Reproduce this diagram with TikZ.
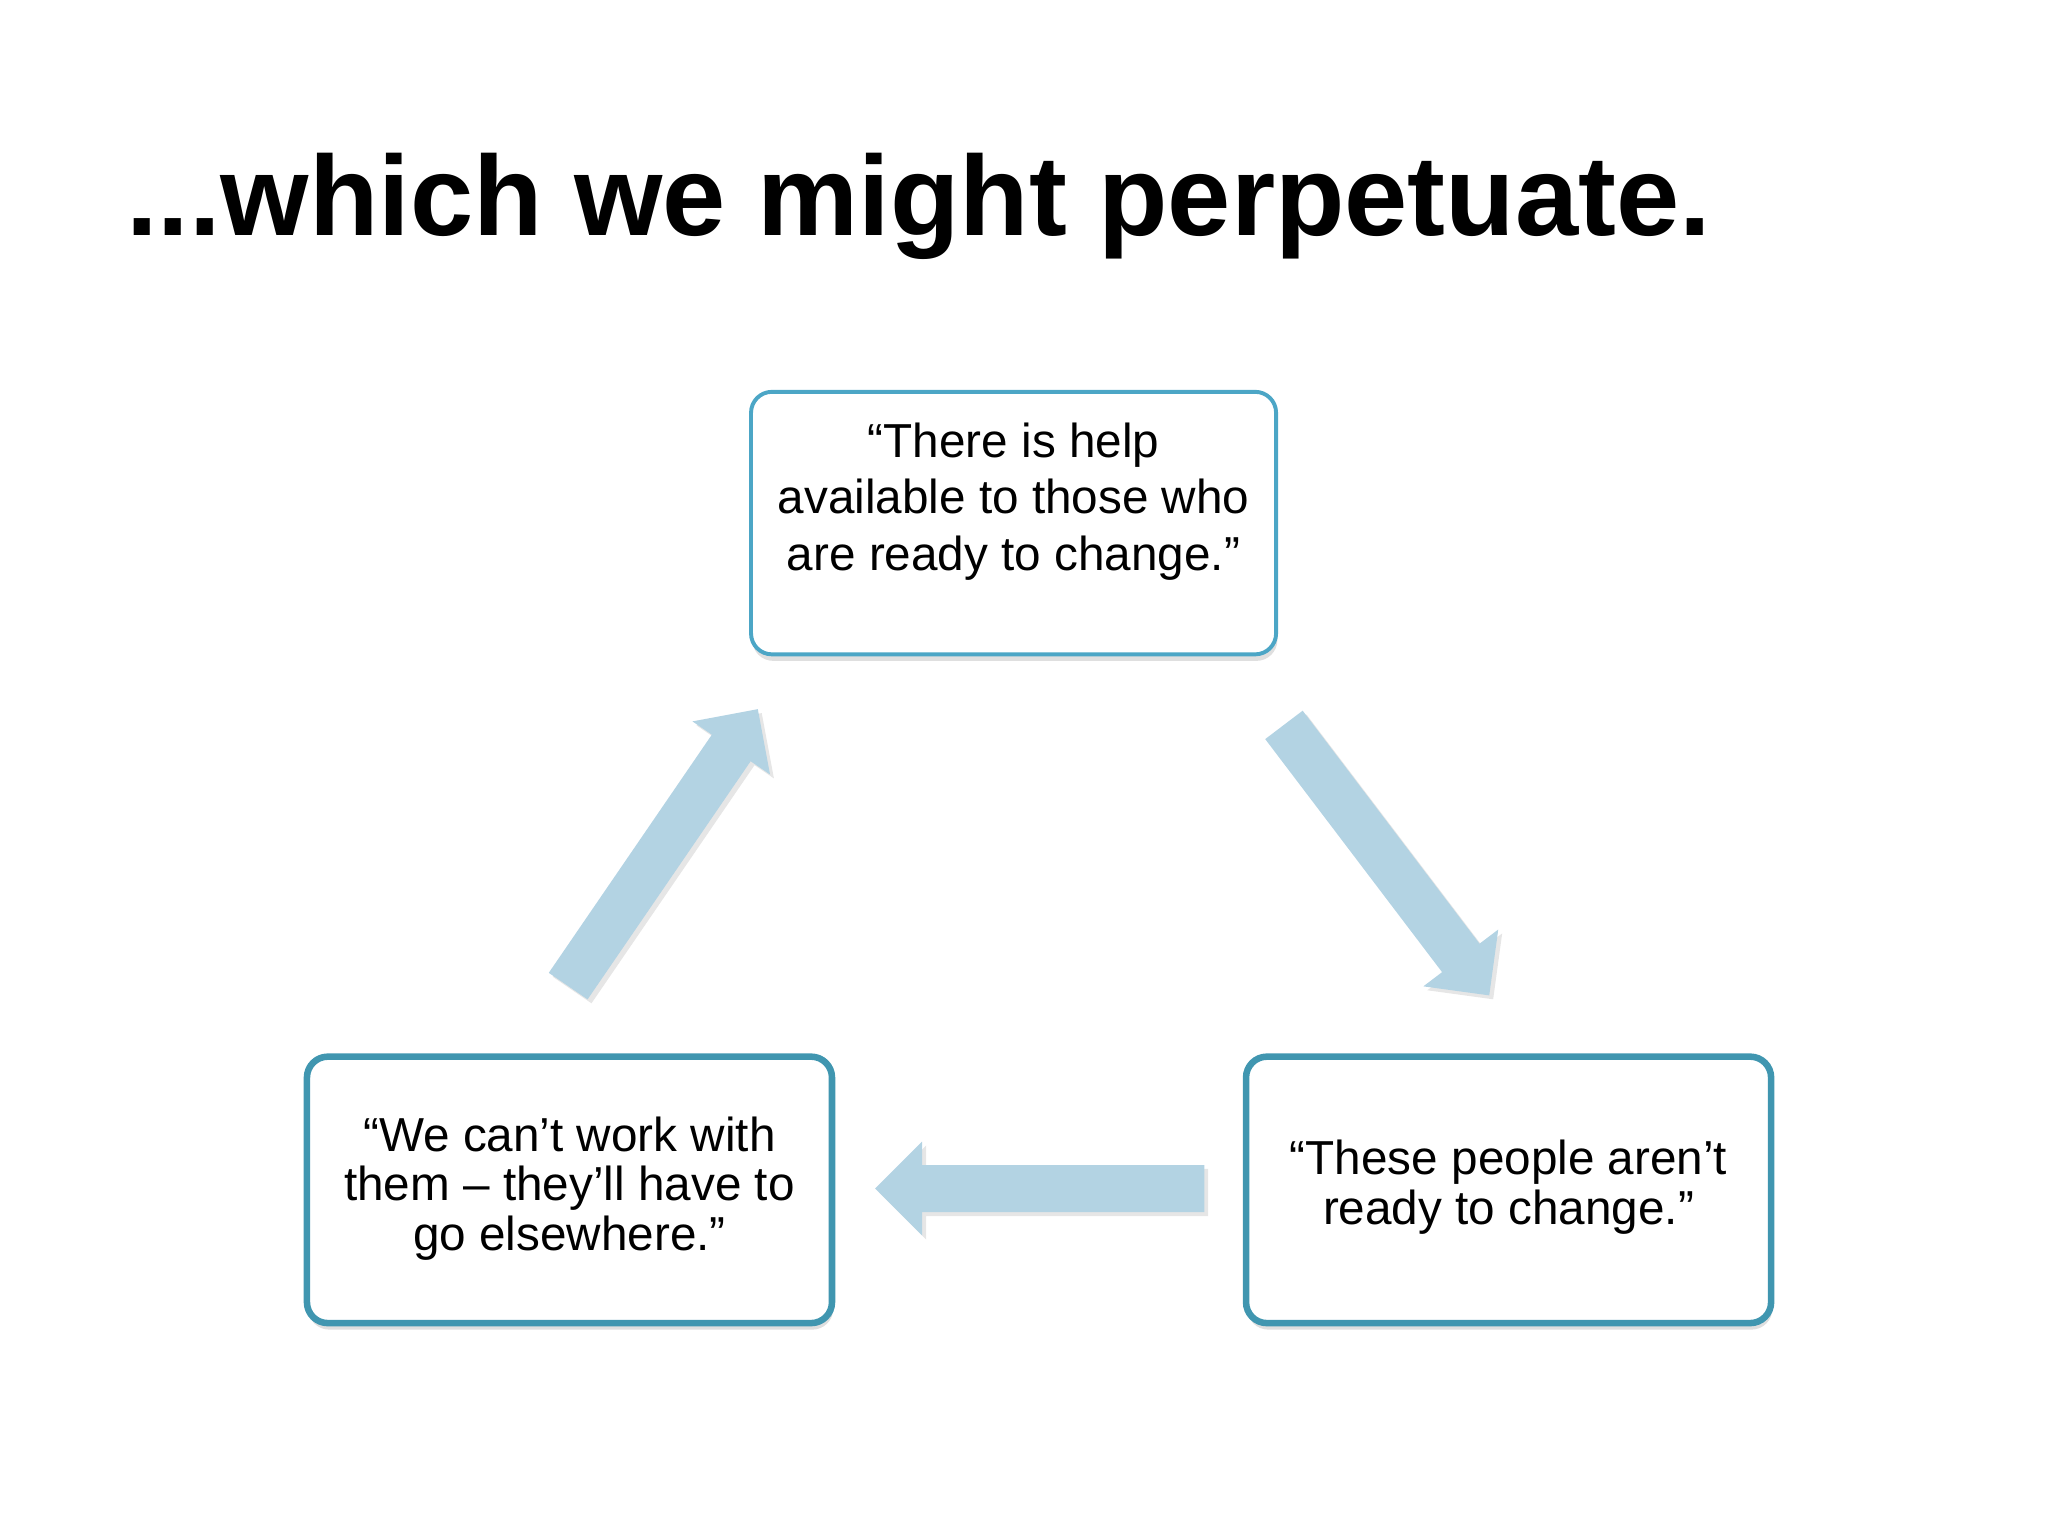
\documentclass[tikz,border=0pt]{standalone}
\usepackage{fontspec}
\setmainfont{Liberation Sans}
\usetikzlibrary{shadows}
\definecolor{topb}{HTML}{4CA6C6}
\definecolor{botb}{HTML}{4096B0}
\definecolor{arrf}{HTML}{B3D3E3}
\tikzset{
  box/.style={draw, rounded corners=16pt, fill=white, minimum width=402pt, minimum height=201pt, drop shadow={opacity=0.25, shadow xshift=1pt, shadow yshift=-5pt}},
  txt/.style={align=center, font=\fontsize{36.5}{43}\selectfont},
  arrowfill/.style={fill=arrf, drop shadow={opacity=0.2, shadow xshift=3pt, shadow yshift=-3pt}}
}
\newcommand{\blockarrow}[4]{% x y angle length
  \path[arrowfill, shift={(#1,#2)}, rotate=#3] (0,-18)--(#4-36,-18)--(#4-36,-36)--(#4,0)--(#4-36,36)--(#4-36,18)--(0,18)--cycle;}
\begin{document}
\begin{tikzpicture}[x=1pt,y=1pt]
\useasboundingbox (0,0) rectangle (1568,1176);
\node[anchor=base west, font=\fontsize{87}{95}\selectfont\bfseries] (title) at (93,996) {...which we might perpetuate.};
\node[box, draw=topb, line width=3pt] (top) at (776,775.5) {};
\node[txt] (toptxt) at (776,792) {“There is help\\available to those who\\are ready to change.”};
\node[box, draw=botb, line width=5pt, minimum height=204pt] (left) at (436,265) {};
\node[txt, font=\fontsize{36.5}{38}\selectfont] (lefttxt) at (436,266) {“We can’t work with\\them – they’ll have to\\go elsewhere.”};
\node[box, draw=botb, line width=5pt, minimum height=204pt] (right) at (1155,265) {};
\node[txt, font=\fontsize{36.5}{38}\selectfont] (righttxt) at (1155,267) {“These people aren’t\\ready to change.”};
\blockarrow{435}{421}{55.6}{257}
\blockarrow{983}{621}{-52.8}{260}
\blockarrow{922}{266}{180}{252}
\end{tikzpicture}
\end{document}
